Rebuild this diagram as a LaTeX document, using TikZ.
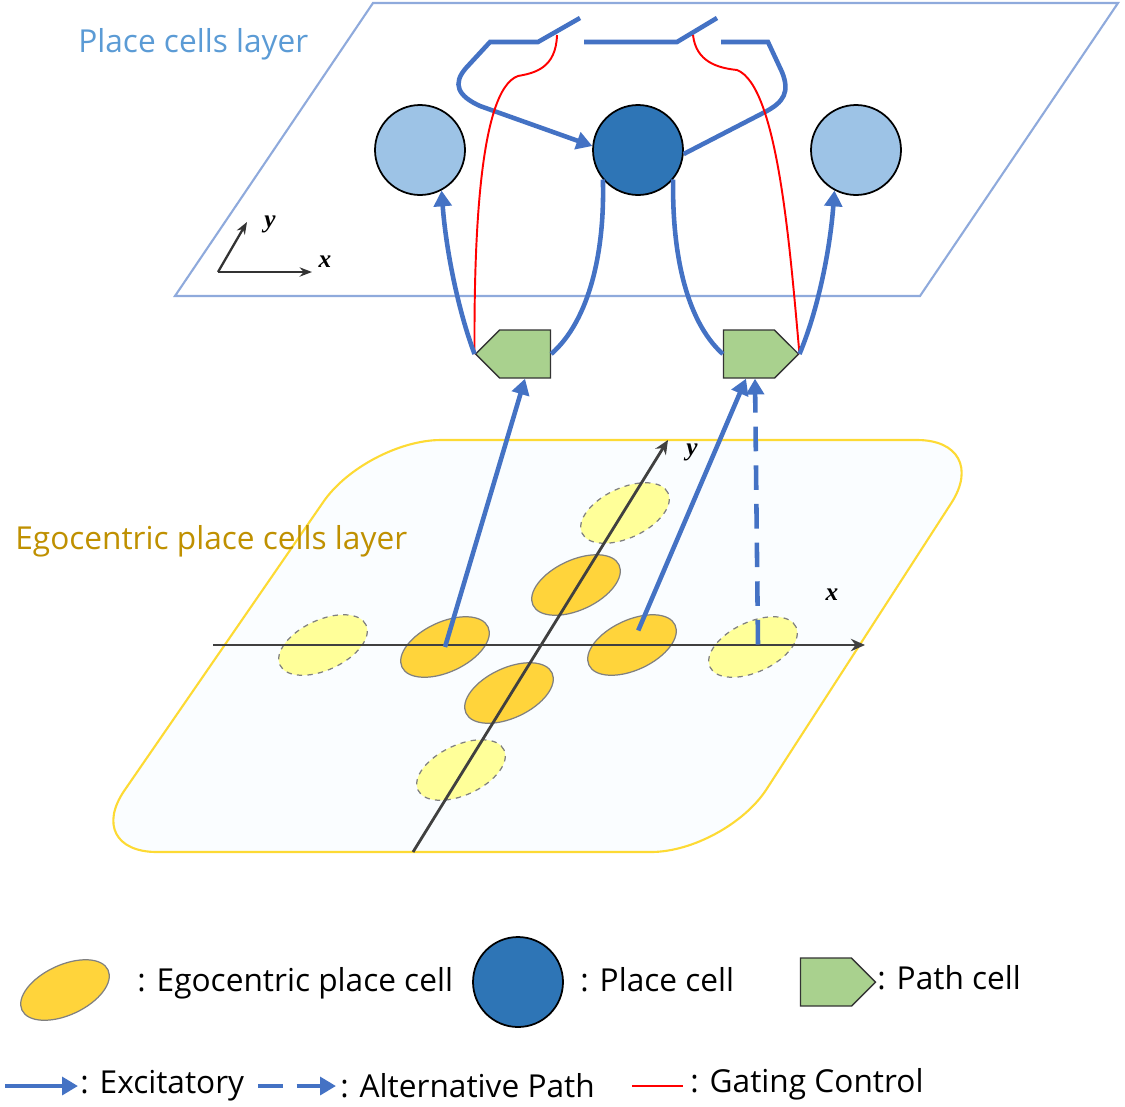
\documentclass[tikz,border=0pt]{standalone}
\usepackage{fontspec}
\setmainfont{Open Sans}
\newfontfamily\axf{Liberation Serif}
\usetikzlibrary{shapes.geometric,shapes.symbols,arrows.meta}
\definecolor{ablue}{HTML}{4472C4}
\definecolor{plane}{HTML}{8FAADC}
\definecolor{lblue}{HTML}{9DC3E6}
\definecolor{dblue}{HTML}{2E75B6}
\definecolor{pgreen}{HTML}{A9D18E}
\definecolor{egold}{HTML}{FFD43B}
\definecolor{elight}{HTML}{FFFF99}
\definecolor{ygold}{HTML}{BF9000}
\definecolor{ltxt}{HTML}{5B9BD5}
\tikzset{
 arr/.style={ablue,line width=2.6pt,-{Triangle[length=9pt,width=10pt]}},
 bl/.style={ablue,line width=2.6pt},
 gate/.style={red,line width=1.1pt},
 pcell/.style={circle,draw=black,line width=1pt,minimum size=1.8cm,inner sep=0pt},
 pathc/.style={signal,draw=black!80,line width=0.8pt,fill=pgreen,minimum width=1.5cm,minimum height=0.96cm,signal pointer angle=90,inner sep=0pt},
 egs/.style={ellipse,draw=black!50,line width=0.7pt,fill=egold,minimum width=1.9cm,minimum height=1.0cm,rotate=25,inner sep=0pt},
 egd/.style={egs,fill=elight,dashed},
 ax/.style={black!75,line width=1.6pt,-{Stealth[length=8pt,width=7pt]}},
 lab/.style={font=\fontsize{18}{20}\selectfont,anchor=west,inner sep=0pt},
 axl/.style={font=\axf\bfseries\itshape\Large},
}
\begin{document}
\begin{tikzpicture}[x=0.02cm,y=-0.02cm]
\useasboundingbox (0,0) rectangle (1125,1106);
% top plane
\draw[plane,line width=1.2pt] (373,3) -- (1118,3) -- (920,296) -- (175,296) -- cycle;
\node[lab,text=ltxt] (t1) at (78,44) {Place cells layer};
\coordinate (o) at (218,272);
\coordinate (oy) at (247,222);
\coordinate (ox) at (312,272);
\draw[black!80,line width=1.3pt,-{Stealth[length=7pt]}] (o) -- (oy);
\draw[black!80,line width=1.3pt,-{Stealth[length=7pt]}] (o) -- (ox);
\node[axl] (ly) at (270,224) {y};
\node[axl] (lx) at (325,262) {x};
% lower plane
\draw[yellow!70!orange!80,line width=1.2pt,fill=cyan!2,rounded corners=1.5cm] (366,440) -- (992,440) -- (726,852) -- (82,852) -- cycle;
\node[lab,text=ygold] (t2) at (15,541) {Egocentric place cells layer};
% ellipses
\node[egd] (e1) at (323,645) {};
\node[egs] (e2) at (445,647) {};
\node[egs] (e3) at (632,645) {};
\node[egd] (e4) at (753,647) {};
\node[egd] (e5) at (625,513) {};
\node[egs] (e6) at (576,585) {};
\node[egs] (e7) at (509,693) {};
\node[egd] (e8) at (461,770) {};
\coordinate (xa) at (213,645); \coordinate (xb) at (865,645);
\coordinate (ya) at (413,852); \coordinate (yb) at (668,440);
\draw[ax] (xa) -- (xb);
\draw[ax] (ya) -- (yb);
\node[axl] (lx2) at (832,595) {x};
\node[axl] (ly2) at (692,452) {y};
% place cells
\node[pcell,fill=lblue] (c1) at (420,150) {};
\node[pcell,fill=dblue] (c2) at (638,150) {};
\node[pcell,fill=lblue] (c3) at (856,150) {};
% path cells
\node[pathc,signal to=west] (p1) at (525,354) {};
\node[pathc,signal to=east] (p2) at (749,354) {};
% switches
\coordinate (s1) at (580,18); \coordinate (s1p) at (538,42);
\coordinate (s2) at (717,18); \coordinate (s2p) at (677,42);
\draw[bl,-{Triangle[length=9pt,width=10pt]}] (s1) -- (s1p) -- (490,42) -- (466,68) .. controls (452,84) and (458,96) .. (480,106) -- (c2.175);
\draw[bl] (584,42) -- (s2p) -- (s2);
\draw[bl] (721,42) -- (768,42) -- (782,72) .. controls (790,92) and (784,102) .. (765,112) -- (c2.-5);
% gating
\draw[gate] (557,35) .. controls (556,68) and (535,73) .. (518,76) .. controls (478,90) and (474,250) .. (p1.west);
\draw[gate] (693,35) .. controls (696,62) and (718,68) .. (737,70) .. controls (778,86) and (790,250) .. (p2.east);
% excitatory
\draw[arr] (p1.west) .. controls (458,310) and (446,250) .. (c1.-62);
\draw[bl] (c2.-140) .. controls (605,250) and (590,320) .. (p1.east);
\draw[bl] (c2.-40) .. controls (672,250) and (685,320) .. (p2.west);
\draw[arr] (p2.east) .. controls (818,310) and (830,250) .. (c3.-118);
\draw[arr] (e2.center) -- (p1.south);
\draw[arr,shorten <=9pt] (e3.center) -- ([xshift=-0.06cm]p2.south);
\draw[arr,dash pattern=on 14pt off 8pt] ([xshift=0.1cm,yshift=0.05cm]e4.center) -- ([xshift=0.12cm]p2.south);
% legend
\node[egs] (le) at (65,990) {};
\node[lab] (lt1) at (137,983) {: Egocentric place cell};
\node[pcell,fill=dblue] (lc) at (518,982) {};
\node[lab] (lt2) at (580,980) {: Place cell};
\node[pathc,signal to=east] (lp) at (826,982) {};
\node[lab] (lt3) at (877,978) {: Path cell};
\coordinate (a1) at (5,1086); \coordinate (a2) at (78,1086);
\draw[arr] (a1) -- (a2);
\node[lab] (lt4) at (80,1086) {: Excitatory};
\coordinate (b1) at (258,1086); \coordinate (b2) at (336,1086);
\draw[arr,dash pattern=on 14pt off 8pt] (b1) -- (b2);
\node[lab] (lt5) at (340,1086) {: Alternative Path};
\coordinate (g1) at (632,1086); \coordinate (g2) at (683,1086);
\draw[gate,line width=1.4pt] (g1) -- (g2);
\node[lab] (lt6) at (690,1084) {: Gating Control};
\end{tikzpicture}
\end{document}
